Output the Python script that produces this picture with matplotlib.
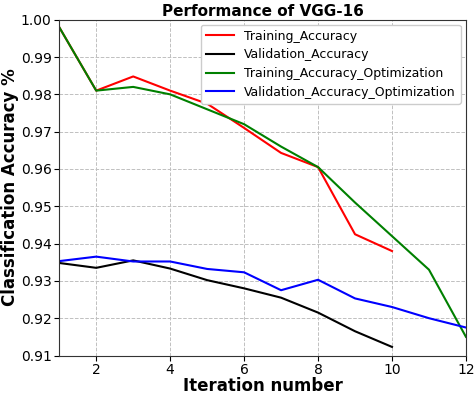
import matplotlib
matplotlib.use('Agg')
import matplotlib.pyplot as plt

# data
iters_train = [1, 2, 3, 4, 5, 6, 7, 8, 9, 10]
iters_opt = [1, 2, 3, 4, 5, 6, 7, 8, 9, 10, 11, 12]
train_acc = [0.998, 0.981, 0.9848, 0.981, 0.9775, 0.971, 0.9643, 0.9605, 0.9425, 0.938]
val_acc = [0.9348, 0.9335, 0.9355, 0.9333, 0.9302, 0.928, 0.9255, 0.9215, 0.9165, 0.9123]
train_acc_opt = [0.998, 0.981, 0.982, 0.980, 0.976, 0.972, 0.966, 0.9605, 0.951, 0.942, 0.933, 0.915]
val_acc_opt = [0.9353, 0.9365, 0.9352, 0.9352, 0.9332, 0.9323, 0.9275, 0.9303, 0.9253, 0.923, 0.920, 0.9175]

fig = plt.figure(figsize=(4.74, 3.95), dpi=100)
ax = fig.add_axes([0.125, 0.1, 0.858, 0.85])

ax.plot(iters_train, train_acc, color='red', lw=1.5, label='Training_Accuracy')
ax.plot(iters_train, val_acc, color='black', lw=1.5, label='Validation_Accuracy')
ax.plot(iters_opt, train_acc_opt, color='green', lw=1.5, label='Training_Accuracy_Optimization')
ax.plot(iters_opt, val_acc_opt, color='blue', lw=1.5, label='Validation_Accuracy_Optimization')

ax.set_xlim(1, 12)
ax.set_ylim(0.91, 1.00)
ax.set_xticks([2, 4, 6, 8, 10, 12])
ax.set_yticks([0.91, 0.92, 0.93, 0.94, 0.95, 0.96, 0.97, 0.98, 0.99, 1.00])
ax.yaxis.set_major_formatter(matplotlib.ticker.FormatStrFormatter('%.2f'))
ax.tick_params(labelsize=10, pad=2)
ax.grid(True, linestyle='--', color='#c0c0c0', lw=0.7)
for s in ax.spines.values():
    s.set_color('#333333')

ax.set_xlabel('Iteration number', fontsize=12, fontweight='bold', labelpad=0)
ax.set_ylabel('Classification Accuracy %', fontsize=12, fontweight='bold', labelpad=1)
ax.set_title('Performance of VGG-16', fontsize=11, fontweight='bold', pad=3)
ax.legend(loc='upper right', fontsize=9, framealpha=1, handlelength=2.3,
          labelspacing=0.45, borderaxespad=0.4)

fig.savefig('out.png', dpi=100)
